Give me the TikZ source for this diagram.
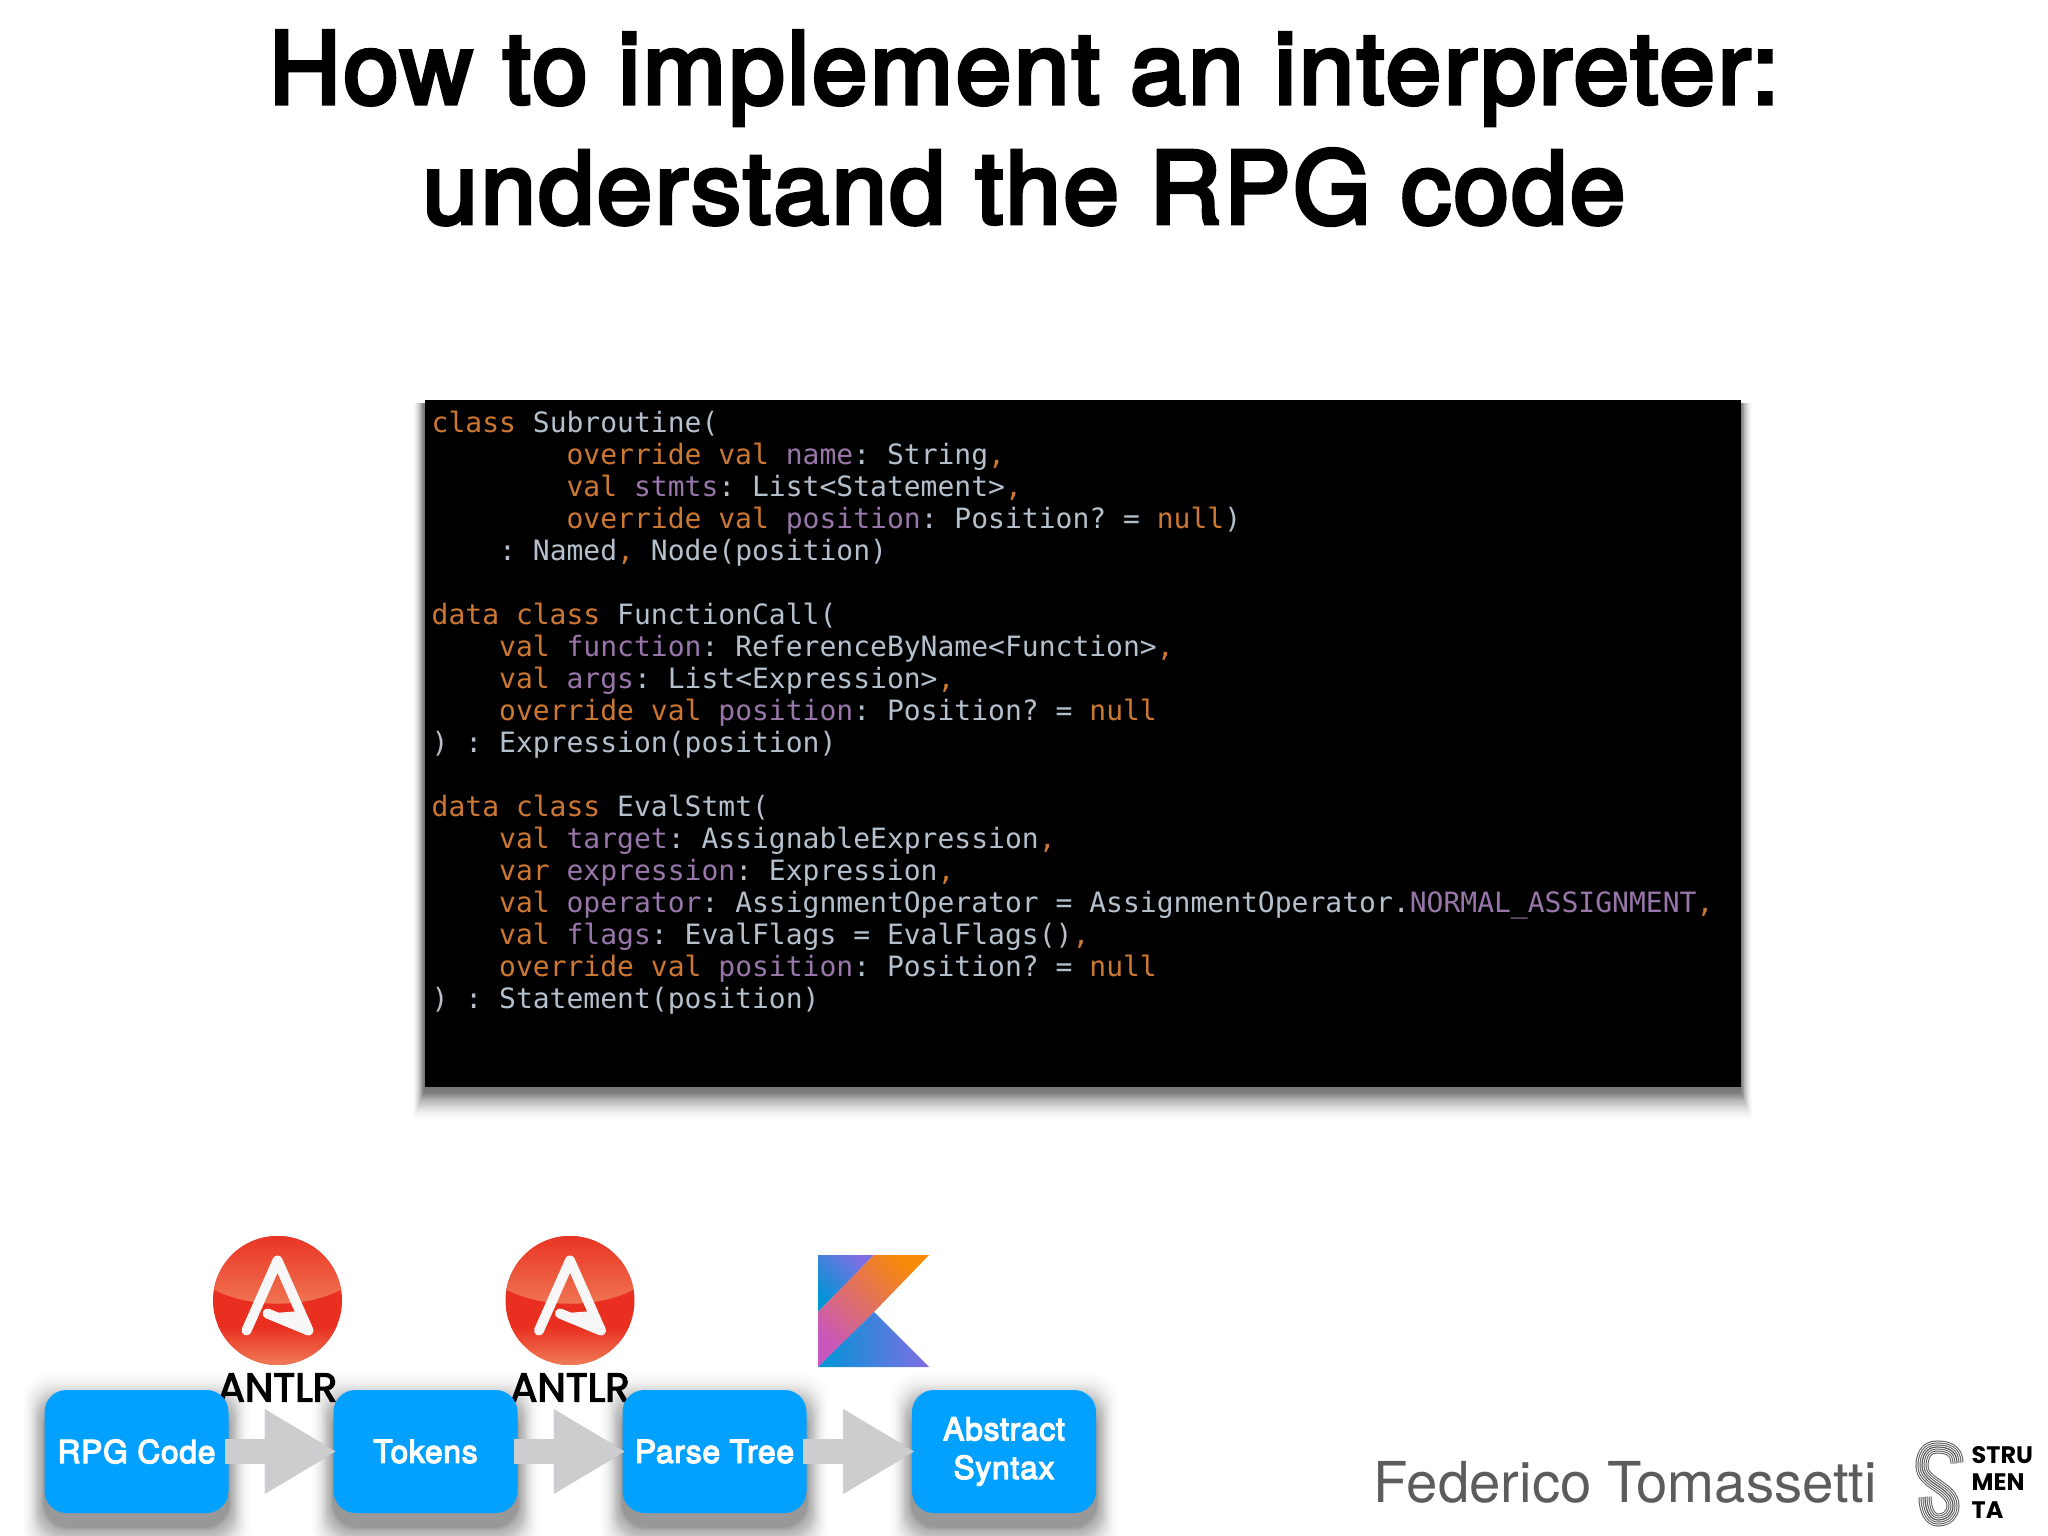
\documentclass[tikz,border=0pt]{standalone}
\usepackage{fontspec}
\usepackage{xcolor}
\usetikzlibrary{arrows.meta}
\usetikzlibrary{backgrounds}
\usetikzlibrary{calc}
\setmainfont{TeX Gyre Heros}
\newfontfamily\titlefont{TeX Gyre Heros}[FakeBold=4,LetterSpace=2.6]
\newfontfamily\codefont{DejaVu Sans Mono}
\newfontfamily\logofont{Poppins}
\newfontfamily\antlrfont{Poppins}[FakeBold=3]
\definecolor{codeorange}{HTML}{CC7832}
\definecolor{codepurple}{HTML}{9876AA}
\definecolor{codegray}{HTML}{B4C0CC}
\definecolor{flowblue}{HTML}{03A1FF}
\definecolor{arrowgray}{HTML}{CDCDD0}
\definecolor{antlrred}{HTML}{E92F20}
\definecolor{antlrorange}{HTML}{F07A55}
\definecolor{kotlinblue}{HTML}{0095D5}
\definecolor{kotlinpurple}{HTML}{806EE3}
\definecolor{kotlinorange}{HTML}{F88909}
\definecolor{kotlinpink}{HTML}{C757BC}
\newcommand{\kw}[1]{\textcolor{codeorange}{#1}}
\newcommand{\fd}[1]{\textcolor{codepurple}{#1}}
\newcommand{\ind}[1]{\hphantom{#1}}
\tikzset{
	antlrlogo/.pic={
		\begin{scope}
			\clip (0,0) circle (.645);
			\fill[antlrred] (-.7,-.7) rectangle (.7,.7);
			\shade[top color=antlrred, bottom color=antlrorange] (-.7,-.64) rectangle (.7,-.26);
			\shade[top color=antlrred, bottom color=antlrorange] (-.7,.7) -- (-.7,.14) .. controls (-.3,-.09) and (.3,-.09) .. (.7,.14) -- (.7,.7) -- cycle;
		\end{scope}
		\fill[white!92!gray] (-.10,-.13) -- (.17,-.11) -- (.31,-.30) -- cycle;
		\draw[white!94!gray, line width=1mm, line join=round, line cap=round] (-.31,-.30) -- (0,.40) -- (.31,-.30) -- (-.10,-.13);
		\node[text=black, font=\antlrfont\fontsize{11.5pt}{13pt}\selectfont, inner sep=0] (-label) at (0,-.87) {ANTLR};
	}
}
\begin{document}
\begin{tikzpicture}[
		flowbox/.style={fill=flowblue, text=white, rounded corners=2.2mm, minimum width=1.84cm, minimum height=1.23cm, inner sep=0, align=center, font=\titlefont\fontsize{9pt}{11pt}\selectfont},
		flowarrow/.style={-{Triangle[length=7.2mm,width=7.9mm]}, line width=2.5mm, shorten <=-.4mm, shorten >=-.4mm},
		codeline/.style={text=codegray, align=left, inner sep=0, font=\codefont\fontsize{7.97pt}{9.11pt}\selectfont\frenchspacing}
	]
	\useasboundingbox (0,0) rectangle (20.48,-15.36);

	\node[inner sep=0, align=center, font=\titlefont\fontsize{28.4pt}{34.1pt}\selectfont] (title) at (10.24,-1.28) {How to implement an interpreter:\\understand the RPG code};

	\node[fill=black, minimum width=13.16cm, minimum height=6.87cm, inner sep=0] (codebox) at (10.825,-7.435) {};
	\node[codeline, anchor=north west] (codetext) at (4.31,-4.10) {%
		\kw{class} Subroutine(\\
		\ind{xxxxxxxx}\kw{override val} \fd{name}: String\kw{,}\\
		\ind{xxxxxxxx}\kw{val} \fd{stmts}: List<Statement>\kw{,}\\
		\ind{xxxxxxxx}\kw{override val} \fd{position}: Position? = \kw{null})\\
		\ind{xxxx}: Named\kw{,} Node(position)\\
		~\\
		\kw{data class} FunctionCall(\\
		\ind{xxxx}\kw{val} \fd{function}: ReferenceByName<Function>\kw{,}\\
		\ind{xxxx}\kw{val} \fd{args}: List<Expression>\kw{,}\\
		\ind{xxxx}\kw{override val} \fd{position}: Position? = \kw{null}\\
		) : Expression(position)\\
		~\\
		\kw{data class} EvalStmt(\\
		\ind{xxxx}\kw{val} \fd{target}: AssignableExpression\kw{,}\\
		\ind{xxxx}\kw{var} \fd{expression}: Expression\kw{,}\\
		\ind{xxxx}\kw{val} \fd{operator}: AssignmentOperator = AssignmentOperator.\fd{NORMAL\_ASSIGNMENT}\kw{,}\\
		\ind{xxxx}\kw{val} \fd{flags}: EvalFlags = EvalFlags()\kw{,}\\
		\ind{xxxx}\kw{override val} \fd{position}: Position? = \kw{null}\\
		) : Statement(position)};

	\pic (antlrone) at (2.775,-13.005) {antlrlogo};
	\pic (antlrtwo) at (5.70,-13.005) {antlrlogo};

	\shade[top color=kotlinpurple, bottom color=kotlinblue, shading angle=-45] (8.18,-12.55) -- (8.74,-12.55) -- (8.18,-13.12) -- cycle;
	\shade[top color=kotlinorange, bottom color=kotlinpink, shading angle=-45] (8.74,-12.55) -- (9.29,-12.55) -- (8.74,-13.12) -- (8.18,-13.67) -- (8.18,-13.12) -- cycle;
	\shade[left color=kotlinblue, right color=kotlinpurple] (8.18,-13.67) -- (8.74,-13.12) -- (9.29,-13.67) -- cycle;

	\node[flowbox] (rpg) at (1.365,-14.515) {RPG Code};
	\node[flowbox] (tokens) at (4.255,-14.515) {Tokens};
	\node[flowbox] (parse) at (7.145,-14.515) {Parse Tree};
	\node[flowbox] (ast) at (10.04,-14.515) {Abstract\\Syntax};

	\draw[flowarrow, arrowgray] (rpg.east) -- (tokens.west);
	\draw[flowarrow, arrowgray] (tokens.east) -- (parse.west);
	\draw[flowarrow, arrowgray] (parse.east) -- (ast.west);

	\begin{scope}[on background layer]
		\foreach \shadownode in {rpg,tokens,parse,ast} {
			\foreach \g in {0,1,...,40} {
				\pgfmathsetmacro{\shadowop}{.035*(1-\g/41)*(1-\g/41)}
				\fill[black, opacity=\shadowop, rounded corners=2.5mm] ($(\shadownode.south west)+({-\g*.007},{-.14-\g*.01})$) rectangle ($(\shadownode.north east)+({\g*.007},{-.14+\g*.01})$);
			}
		}
		\foreach \g in {0,1,...,36} {
			\pgfmathsetmacro{\shadowop}{.06*(1-\g/37)*(1-\g/37)}
			\fill[black, opacity=\shadowop] ($(codebox.south west)+({-\g*.004},{-.04-\g*.01})$) rectangle ($(codebox.north east)+({\g*.004},{-.04})$);
		}
		\foreach \g in {2,4,...,8} {
			\draw[flowarrow, black, opacity=.07, yshift=-\g*.1mm] (rpg.east) -- (tokens.west);
			\draw[flowarrow, black, opacity=.07, yshift=-\g*.1mm] (tokens.east) -- (parse.west);
			\draw[flowarrow, black, opacity=.07, yshift=-\g*.1mm] (parse.east) -- (ast.west);
		}
	\end{scope}

	\node[text=black!64, inner sep=0, anchor=base west, font=\fontsize{16.03pt}{18pt}\selectfont] (author) at (13.73,-15.02) {Federico Tomassetti};

	\foreach \w/\c in {1.3/black!65,1.1/white,.9/black!65,.7/white,.5/black!65,.3/white,.12/black!65}
		\draw[\c, line width=\w mm] (19.57,-14.63) .. controls (19.57,-14.50) and (19.47,-14.47) .. (19.37,-14.47) .. controls (19.26,-14.47) and (19.22,-14.56) .. (19.22,-14.66) .. controls (19.22,-14.84) and (19.53,-14.87) .. (19.53,-15.06) .. controls (19.53,-15.14) and (19.47,-15.20) .. (19.38,-15.20) .. controls (19.30,-15.20) and (19.25,-15.10) .. (19.25,-14.97);

	\node[inner sep=0, anchor=west, font=\logofont\bfseries\fontsize{6.8pt}{8pt}\selectfont] (stru) at (19.71,-14.55) {STRU};
	\node[inner sep=0, anchor=west, font=\logofont\bfseries\fontsize{6.8pt}{8pt}\selectfont] (men) at (19.71,-14.82) {MEN};
	\node[inner sep=0, anchor=west, font=\logofont\bfseries\fontsize{6.8pt}{8pt}\selectfont] (ta) at (19.71,-15.10) {TA};
\end{tikzpicture}
\end{document}
